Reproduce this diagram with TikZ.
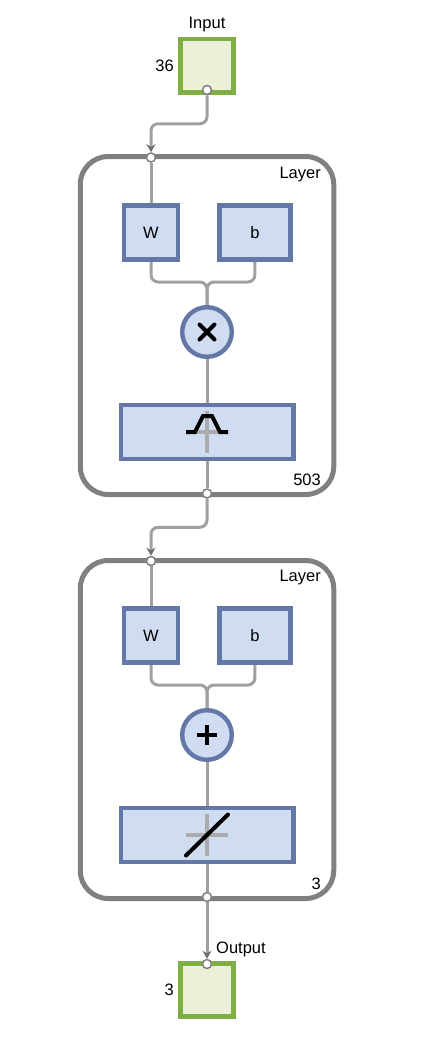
\documentclass[tikz,border=0pt]{standalone}
\usepackage{fontspec}
\setmainfont{Liberation Sans}
\usepackage{tikz}
\usetikzlibrary{arrows.meta,positioning,calc,backgrounds}
\definecolor{portgreen}{HTML}{7FAE42}
\definecolor{portbg}{HTML}{EBF1D8}
\definecolor{opblue}{HTML}{6478A8}
\definecolor{opbg}{HTML}{CFDCF2}
\definecolor{framegray}{HTML}{808080}
\definecolor{wiregray}{HTML}{A0A0A0}
\definecolor{tipgray}{HTML}{707070}
\definecolor{crossgray}{HTML}{ABABAB}

\begin{document}
\begin{tikzpicture}[x=1pt, y=-1pt, every node/.style={font=\fontsize{16.5}{18}\selectfont, inner sep=0pt},
  io/.style={draw=portgreen, fill=portbg, line width=4.6pt, minimum size=53.4pt},
  layer/.style={draw=framegray, line width=5pt, rounded corners=28pt, minimum width=253.5pt, minimum height=338pt},
  weight/.style={draw=opblue, fill=opbg, line width=4.4pt, minimum height=54pt, minimum width=54pt},
  bias/.style={weight, minimum width=71pt},
  netop/.style={circle, draw=opblue, fill=opbg, line width=4.4pt, minimum size=49.6pt},
  transfer/.style={draw=opblue, fill=opbg, line width=4.4pt, minimum height=53.6pt, minimum width=172.6pt},
  port/.style={circle, draw=framegray, fill=white, line width=1.5pt, minimum size=9pt},
  wire/.style={draw=wiregray, line width=3pt, rounded corners=7pt},
  arr/.style={wire, -{Stealth[length=8pt, width=9pt, color=tipgray]}},
  cross/.style={draw=crossgray, line width=3.8pt},
  glyph/.style={draw=black, line width=4pt}]
\useasboundingbox (0,0) rectangle (426,1044);
% input
\node[io] (input) at (207,65.5) {};
\node[above=4pt of input] (inputname) {Input};
\node[left=4pt of input] (inputsize) {36};
% first layer
\node[layer, below=59.5pt of input] (hidden) {};
\node[anchor=east] (hiddenname) at (321,174.5) {Layer};
\node[anchor=east] (hiddensize) at (321,480) {503};
\node[weight] (wa) at (151,232.5) {W};
\node[bias, right=37pt of wa] (ba) {b};
\node[netop] (mul) at (207,332) {};
\node[transfer, below=44pt of mul] (tansig) {};
% second layer
\node[layer, below=61pt of hidden] (outlayer) {};
\node[anchor=east] (outlayername) at (321,577.5) {Layer};
\node[anchor=east] (outlayersize) at (321,884) {3};
\node[weight] (wb) at (151,635.5) {W};
\node[bias, right=37pt of wb] (bb) {b};
\node[netop] (sum) at (207,735) {};
\node[transfer, below=44pt of sum] (linear) {};
% output
\node[io, below=60pt of outlayer] (output) {};
\node[anchor=west] (outputname) at (216,949.5) {Output};
\node[left=4pt of output] (outputsize) {3};
% ports
\node[port] (inputport) at (207,90) {};
\node[port] (hiddenin) at (151,157.5) {};
\node[port] (hiddenout) at (207,493.5) {};
\node[port] (outlayerin) at (151,561) {};
\node[port] (outlayerout) at (207,897) {};
\node[port] (outputport) at (207,964) {};
\coordinate (joina) at (207,282);
\coordinate (joinb) at (207,685);
% icons
\draw[glyph, line cap=round] (mul.center) ++(-7.5,-7.5) -- ++(15,15) ++(-15,0) -- ++(15,-15);
\draw[glyph] (sum.center) ++(-10,0) -- ++(20,0) ++(-10,-10) -- ++(0,20);
\draw[cross] (tansig.center) ++(-21,0) -- ++(42,0) ++(-21,-21) -- ++(0,42);
\draw[glyph] (tansig.center) ++(-21,0) -- ++(9,0) -- ++(8,-16) -- ++(9,0) -- ++(8,16) -- ++(8,0);
\draw[cross] (linear.center) ++(-21,0) -- ++(42,0) ++(-21,-21) -- ++(0,42);
\draw[glyph, line cap=round] (linear.center) ++(-21,20.5) -- ++(42,-41);
% connectors
\begin{pgfonlayer}{background}
\draw[arr] (inputport) |- ($(inputport)!.5!(hiddenin)$) -| (hiddenin);
\draw[wire] (hiddenin) -- (wa);
\draw[wire] (wa.south) |- (joina) -- (mul);
\draw[wire] (ba.south) |- (joina) -- (mul);
\draw[wire] (mul) -- (tansig);
\draw[wire] (tansig) -- (hiddenout);
\draw[arr] (hiddenout) |- ($(hiddenout)!.5!(outlayerin)$) -| (outlayerin);
\draw[wire] (outlayerin) -- (wb);
\draw[wire] (wb.south) |- (joinb) -- (sum);
\draw[wire] (bb.south) |- (joinb) -- (sum);
\draw[wire] (sum) -- (linear);
\draw[wire] (linear) -- (outlayerout);
\draw[arr] (outlayerout) -- (outputport);
\end{pgfonlayer}
\end{tikzpicture}
\end{document}
